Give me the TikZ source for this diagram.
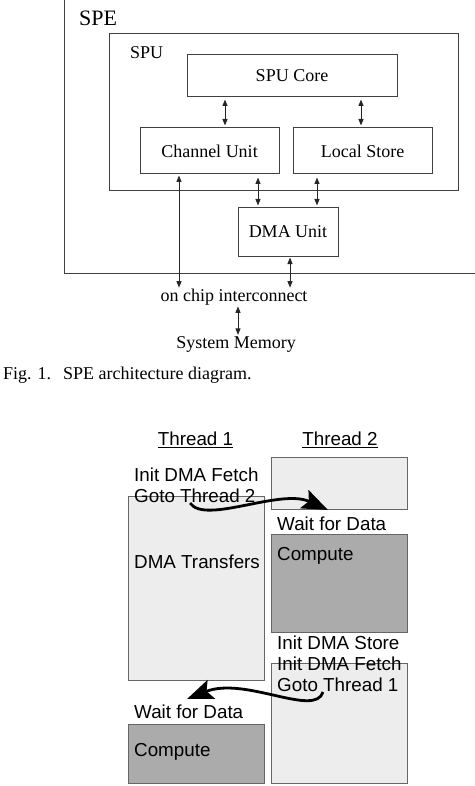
\documentclass[tikz,border=0pt]{standalone}
\usepackage{fontspec}
\setmainfont{Liberation Serif}
\setsansfont{Liberation Sans}
\usetikzlibrary{arrows.meta}
\definecolor{lite}{HTML}{EDEDED}
\definecolor{dark}{HTML}{ABABAB}
\begin{document}
\begin{tikzpicture}[x=1pt,y=-1pt,
    unit/.style={draw=black!75,line width=1pt,inner sep=0pt,font=\fontsize{18}{20}\selectfont},
    link/.style={black!85,line width=0.9pt,{Triangle[length=6.5pt,width=5pt]}-{Triangle[length=6.5pt,width=5pt]}},
    txt/.style={inner sep=1pt,font=\fontsize{18}{20}\selectfont},
    phase/.style={draw=black!60,line width=1pt,minimum width=136pt},
    lbl/.style={inner sep=0pt,align=left,font=\sffamily\fontsize{18.8}{21}\selectfont},
    jump/.style={line width=2.8pt,-{Stealth[length=26pt,width=20pt,inset=5pt]}}]
    \useasboundingbox (0,0) rectangle (474,786);
    \draw[black!75,line width=1pt] (64,-10) rectangle (490,273);
    \node[anchor=west,inner sep=0pt,font=\fontsize{22}{26}\selectfont] (spe) at (79,18) {SPE};
    \node[unit,minimum width=349pt,minimum height=157pt] (spu) at (283.5,112.5) {};
    \node[anchor=west,txt,inner sep=0pt] (spul) at (130,53) {SPU};
    \node[unit,minimum width=210pt,minimum height=42pt] (core) at (292,76) {SPU Core};
    \node[unit,minimum width=139pt,minimum height=46pt] (chan) at (209.5,151) {Channel Unit};
    \node[unit,minimum width=139pt,minimum height=46pt] (ls) at (362.5,151) {Local Store};
    \node[unit,minimum width=100pt,minimum height=48pt] (dma) at (288,232) {DMA Unit};
    \node[txt] (ic) at (234,297) {on chip interconnect};
    \node[txt] (mem) at (236,344) {System Memory};
    \coordinate (xa) at (225,0);
    \coordinate (xb) at (361,0);
    \coordinate (xc) at (179,0);
    \coordinate (xd) at (258,0);
    \coordinate (xe) at (317,0);
    \coordinate (xf) at (290,0);
    \coordinate (xg) at (238,0);
    \draw[link,shorten <=2pt,shorten >=2pt] (core.south -| xa) -- (chan.north -| xa);
    \draw[link,shorten <=2pt,shorten >=2pt] (core.south -| xb) -- (ls.north -| xb);
    \draw[link,shorten <=3pt,shorten >=2pt] (chan.south -| xd) -- (dma.north -| xd);
    \draw[link,shorten <=3pt,shorten >=2pt] (ls.south -| xe) -- (dma.north -| xe);
    \draw[link,shorten <=1pt] (chan.south -| xc) -- (ic.north -| xc);
    \draw[link,shorten <=1pt] (dma.south -| xf) -- (ic.north -| xf);
    \draw[link] (ic.south -| xg) -- (mem.north -| xg);
    \node[anchor=west,txt,inner sep=0pt] (fig) at (3,375) {Fig. 1.};
    \node[anchor=west,txt,inner sep=0pt] (cap) at (63,375) {SPE architecture diagram.};

    \node[lbl] (th1) at (195.5,440) {\underline{Thread 1}};
    \node[lbl] (th2) at (340,440) {\underline{Thread 2}};
    \node[phase,fill=lite,minimum height=52pt] (t2top) at (339,483) {};
    \node[phase,fill=lite,minimum height=184pt] (t1dma) at (196,588) {};
    \node[phase,fill=dark,minimum height=98pt] (t2comp) at (339,583) {};
    \node[phase,fill=lite,minimum height=120pt] (t2dma) at (339,723) {};
    \node[phase,fill=dark,minimum height=59pt] (t1comp) at (196,753.5) {};
    \node[lbl,anchor=west] (fetch1) at (134,485) {Init DMA Fetch\\Goto Thread 2};
    \node[lbl,anchor=west] (xfer) at (134,562) {DMA Transfers};
    \node[lbl,anchor=west] (wait2) at (277,524) {Wait for Data};
    \node[lbl,anchor=west] (comp2) at (277,556) {Compute};
    \node[lbl,anchor=west] (store2) at (277,663.5) {Init DMA Store\\Init DMA Fetch\\Goto Thread 1};
    \node[lbl,anchor=west] (wait1) at (134,712) {Wait for Data};
    \node[lbl,anchor=west] (comp1) at (134,752) {Compute};
    \coordinate (s1) at (190,503);
    \coordinate (e1) at (328,510);
    \coordinate (s2) at (323,692);
    \coordinate (e2) at (187,699);
    \draw[jump] (s1) .. controls (205,525) and (280,488) .. (e1);
    \draw[jump] (s2) .. controls (315,718) and (245,676) .. (e2);
\end{tikzpicture}
\end{document}
